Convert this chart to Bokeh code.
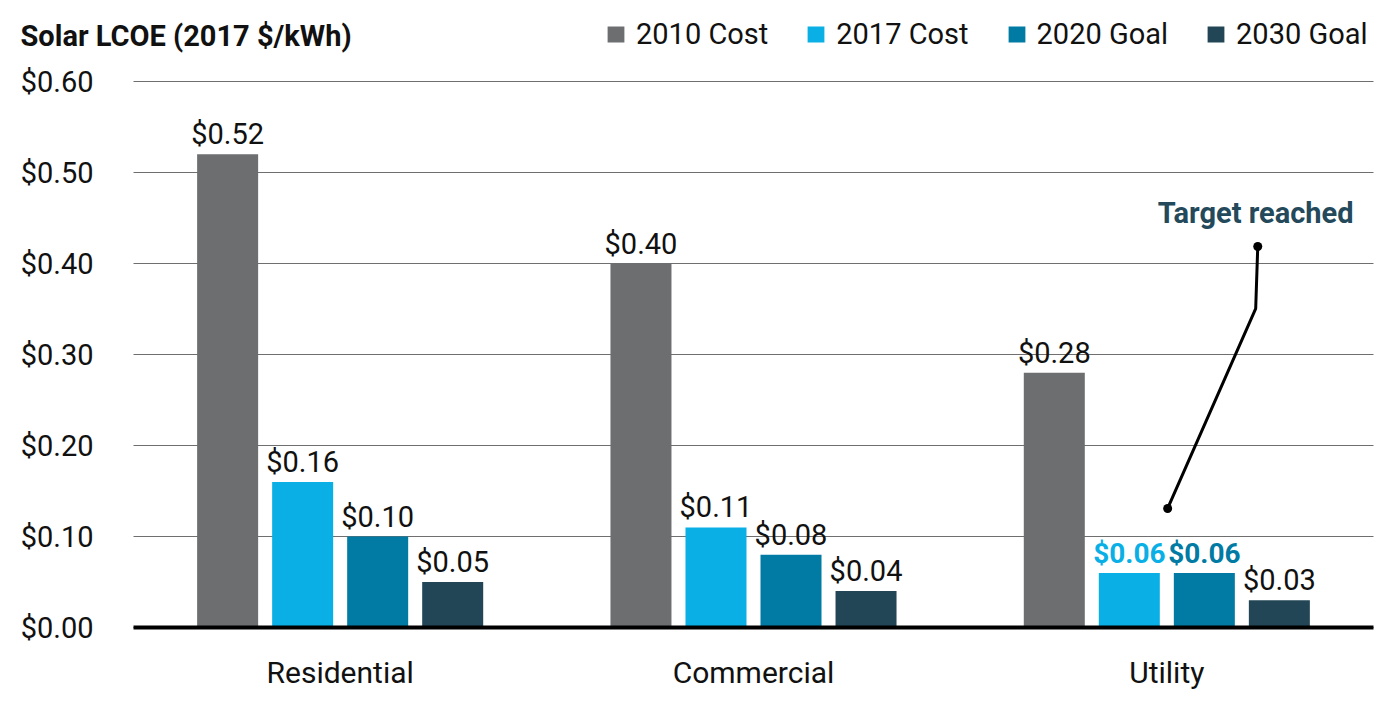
from bokeh.plotting import figure
from bokeh.models import (Range1d, FixedTicker, ColumnDataSource, Label, LabelSet,
                          Legend, LegendItem)
from bokeh.core.properties import value
from bokeh.embed import file_html
from bokeh.resources import INLINE

# Solar levelized cost of energy by market segment (2017 $/kWh)
categories = ["Residential", "Commercial", "Utility"]
series = ["2010 Cost", "2017 Cost", "2020 Goal", "2030 Goal"]
cost_2010 = [0.52, 0.40, 0.28]
cost_2017 = [0.16, 0.11, 0.06]
goal_2020 = [0.10, 0.08, 0.06]
goal_2030 = [0.05, 0.04, 0.03]
y_ticks = [0.0, 0.1, 0.2, 0.3, 0.4, 0.5, 0.6]

colors = ["#6d6e70", "#0ab0e5", "#017ba3", "#224655"]
FONT = "Roboto"
INK = "#111111"

# the frame spans the whole canvas; the value scale occupies x in [0, 3]
PX_PER_X = 413.33
PX_PER_Y = 910.0
BOTTOM_PAD = 15  # pixels of frame below the zero line
p = figure(width=1398, height=708, output_backend="svg", toolbar_location=None,
           title=None, y_axis_location=None,
           x_range=Range1d(-133 / PX_PER_X, 1265 / PX_PER_X),
           y_range=Range1d(-BOTTOM_PAD / PX_PER_Y, 627 / PX_PER_Y),
           min_border_left=0, min_border_right=0, min_border_top=0,
           min_border_bottom=708 - 627 - BOTTOM_PAD)
p.outline_line_color = None
p.background_fill_color = "white"
p.border_fill_color = "white"
p.xgrid.grid_line_color = None
p.ygrid.grid_line_color = None

# horizontal gridlines and value labels of the price scale
p.segment(x0=[0] * len(y_ticks), x1=[3] * len(y_ticks), y0=y_ticks, y1=y_ticks,
          line_color="#6f6f6f", line_width=1)
p.text(x=[-40 / PX_PER_X] * len(y_ticks), y=y_ticks,
       text=["$%.2f" % t for t in y_ticks], text_align="right", text_baseline="middle",
       text_font=value(FONT), text_font_size="29px", text_color=INK)

group_step = 0.1815
bar_w = 0.1476
offsets = [-1.5, -0.5, 0.5, 1.5]
all_values = [cost_2010, cost_2017, goal_2020, goal_2030]

legend_items = []
for s_idx, (s_name, vals, col, off) in enumerate(zip(series, all_values, colors, offsets)):
    xs = [i + 0.5 + off * group_step for i in range(len(categories))]
    tcol, tstyle, tsize = [], [], []
    for i in range(len(categories)):
        if categories[i] == "Utility" and s_idx in (1, 2):
            tcol.append(col); tstyle.append("bold"); tsize.append("28px")
        else:
            tcol.append(INK); tstyle.append("normal"); tsize.append("29px")
    src = ColumnDataSource(dict(x=xs, top=vals, label=["$%.2f" % v for v in vals],
                                c=tcol, st=tstyle, sz=tsize))
    r = p.vbar(x="x", top="top", width=bar_w, source=src, fill_color=col, line_color=None)
    legend_items.append(LegendItem(label=s_name, renderers=[r]))
    p.add_layout(LabelSet(x="x", y="top", text="label", source=src, text_align="center",
                          text_baseline="alphabetic", y_offset=10, text_font=value(FONT),
                          text_font_size="sz", text_color="c", text_font_style="st"))

# zero line
p.segment(x0=[0], x1=[3], y0=[0], y1=[0], line_color="black", line_width=4)

# category axis
p.xaxis.ticker = FixedTicker(ticks=[i + 0.5 for i in range(len(categories))])
p.xaxis.major_label_overrides = {i + 0.5: c for i, c in enumerate(categories)}
p.xaxis.axis_line_color = None
p.xaxis.major_tick_line_color = None
p.xaxis.minor_tick_line_color = None
p.xaxis.major_label_text_font = FONT
p.xaxis.major_label_text_font_size = "30px"
p.xaxis.major_label_text_color = INK
p.xaxis.major_label_standoff = 6

# heading
p.add_layout(Label(x=-113 / PX_PER_X, y=(627 - 35) / PX_PER_Y, text="Solar LCOE (2017 $/kWh)",
                   text_font=FONT, text_font_size="29px", text_font_style="bold",
                   text_color=INK, text_baseline="middle", text_align="left"))

# legend across the top
legend = Legend(items=legend_items, orientation="horizontal", location=(605, 581 + BOTTOM_PAD - 5),
                glyph_width=21, glyph_height=20, label_standoff=10, spacing=37,
                padding=0, margin=0, border_line_color=None, background_fill_alpha=0,
                label_text_font=FONT, label_text_font_size="29px",
                label_text_color=INK, label_height=29)
p.add_layout(legend)

# callout for the utility segment
p.line(x=[2.502, 2.715, 2.72], y=[0.1308, 0.3505, 0.4187], line_color="black", line_width=3)
p.scatter(x=[2.502, 2.72], y=[0.1308, 0.4187], size=9, fill_color="black", line_color=None)
p.add_layout(Label(x=2.478, y=0.456, text="Target reached", text_font=FONT,
                   text_font_size="29px", text_font_style="bold", text_color="#23495b",
                   text_baseline="middle", text_align="left"))

open("out.html", "w").write(file_html(p, INLINE))
